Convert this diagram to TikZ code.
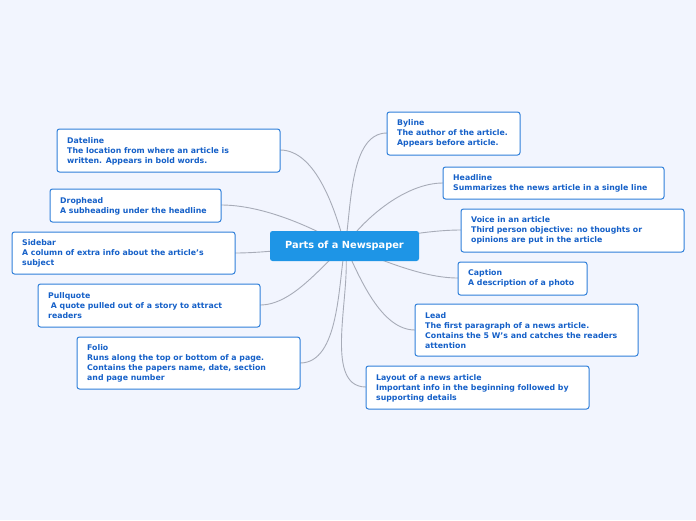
\documentclass[tikz,border=0pt]{standalone}
\usepackage{fontspec}
\setmainfont{DejaVu Sans}
\begin{document}
\begin{tikzpicture}[x=1pt,y=-1pt,
 box/.style={draw=bbord,fill=white,rounded corners=2.5pt,line width=1pt,inner sep=0pt},
 txt/.style={anchor=north west,align=left,text=btext,font=\bfseries\fontsize{7.8}{10}\selectfont,inner sep=0pt},
 conn/.style={draw=lgray,line width=0.9pt,looseness=0.8}]
\definecolor{bg}{HTML}{F2F5FE}
\definecolor{bbord}{HTML}{2F7FDA}
\definecolor{btext}{HTML}{1560C8}
\definecolor{lgray}{HTML}{A8ACB8}
\definecolor{rootc}{HTML}{1E95E6}
\fill[bg] (0,0) rectangle (696,520);
\useasboundingbox (0,0) rectangle (696,520);
\coordinate (c) at (345,246);
% connectors
\draw[conn] (c) to[out=80,in=180] (387,133);
\draw[conn] (c) to[out=55,in=180] (443,183);
\draw[conn] (c) to[out=10,in=180] (461,230);
\draw[conn] (c) to[out=-20,in=180] (458,278);
\draw[conn] (c) to[out=-65,in=180] (415,330);
\draw[conn] (c) to[out=-80,in=180] (366,387);
\draw[conn] (c) to[out=105,in=0] (280,150);
\draw[conn] (c) to[out=150,in=0] (221,205);
\draw[conn] (c) to[out=180,in=0] (235,253);
\draw[conn] (c) to[out=-140,in=0] (260,305);
\draw[conn] (c) to[out=-100,in=0] (300,363);
% root
\node[fill=rootc,rounded corners=2.5pt,minimum width=149pt,minimum height=30pt,text=white,font=\bfseries\fontsize{9.8}{10}\selectfont] (root) at (344.5,246) {Parts of a Newspaper};
% boxes
\path[box] (387,112) rectangle (520,155);
\node[txt] (byline) at (397,119) {Byline\\The author of the article.\\Appears before article.};
\path[box] (443,167) rectangle (664,199);
\node[txt] (headline) at (453,174) {Headline\\Summarizes the news article in a single line};
\path[box] (461,209) rectangle (684,252);
\node[txt] (voice) at (471,216) {Voice in an article\\Third person objective: no thoughts or\\opinions are put in the article};
\path[box] (458,262) rectangle (587,295);
\node[txt] (caption) at (468,269) {Caption\\A description of a photo};
\path[box] (415,304) rectangle (638,356);
\node[txt] (lead) at (425,312) {Lead\\The first paragraph of a news article.\\Contains the 5 W's and catches the readers\\attention};
\path[box] (366,366) rectangle (589,409);
\node[txt] (layout) at (376,374) {Layout of a news article\\Important info in the beginning followed by\\supporting details};
\path[box] (57,129) rectangle (280,172);
\node[txt] (dateline) at (67,137) {Dateline\\The location from where an article is\\written. Appears in bold words.};
\path[box] (50,189) rectangle (221,222);
\node[txt] (drophead) at (60,197) {Drophead\\A subheading under the headline};
\path[box] (12,232) rectangle (235,274);
\node[txt] (sidebar) at (22,239) {Sidebar\\A column of extra info about the article's\\subject};
\path[box] (38,284) rectangle (260,327);
\node[txt] (pullquote) at (48,292) {Pullquote\\\ A quote pulled out of a story to attract\\readers};
\path[box] (77,337) rectangle (300,389);
\node[txt] (folio) at (87,344) {Folio\\Runs along the top or bottom of a page.\\Contains the papers name, date, section\\and page number};
\end{tikzpicture}
\end{document}
